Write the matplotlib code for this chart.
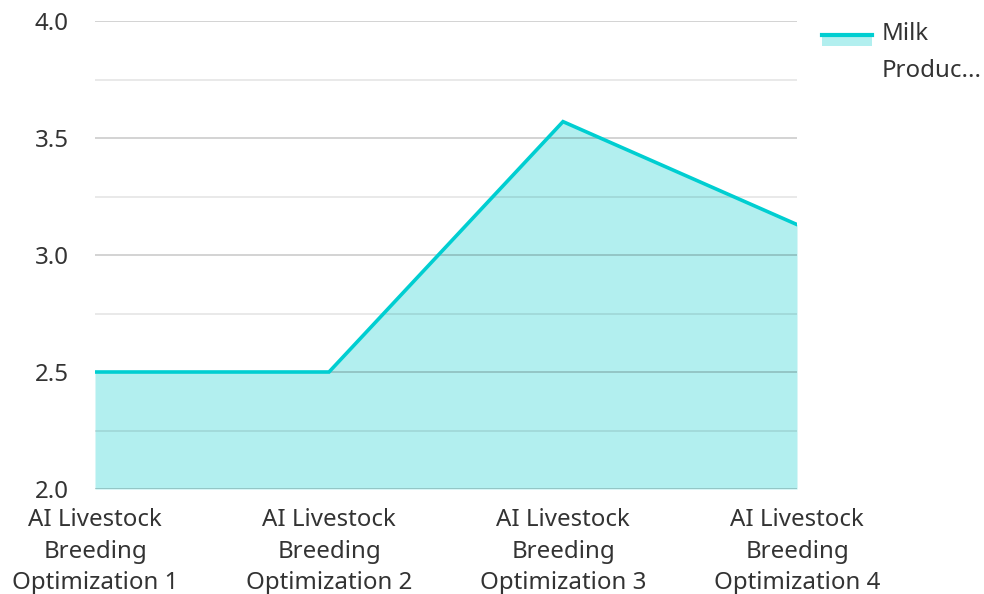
import matplotlib
matplotlib.use("Agg")
import matplotlib.pyplot as plt
from matplotlib.patches import Rectangle
from matplotlib.lines import Line2D

plt.rcParams['font.family'] = ['Noto Sans', 'DejaVu Sans']

categories = ["AI Livestock\nBreeding\nOptimization 1",
              "AI Livestock\nBreeding\nOptimization 2",
              "AI Livestock\nBreeding\nOptimization 3",
              "AI Livestock\nBreeding\nOptimization 4"]
milk_values = [2.5, 2.5, 3.57, 3.13]
y_ticks = [2.0, 2.5, 3.0, 3.5, 4.0]
y_minor = [2.25, 2.75, 3.25, 3.75]
series_name = "Milk\nProduc..."

line_color = "#00CED1"
fill_color = "#B2EFEF"
text_color = "#333333"
fs = 17.3

fig = plt.figure(figsize=(9.84, 5.94), dpi=100)
ax = fig.add_axes([95/984, 1-489/594, (797-95)/984, (489-21)/594])

x = list(range(len(categories)))
ax.fill_between(x, milk_values, 2.0, color=fill_color, lw=0, zorder=1)
ax.plot(x, milk_values, color=line_color, lw=2.6, zorder=3, solid_joinstyle='miter')

ax.set_xlim(0, len(categories) - 1)
ax.set_ylim(2.0, 4.0)
ax.set_yticks(y_ticks)
ax.set_yticklabels([f"{v:.1f}" for v in y_ticks])
ax.set_yticks(y_minor, minor=True)
ax.grid(axis='y', which='major', color='#000000', alpha=0.2, lw=1.2, zorder=2)
ax.grid(axis='y', which='minor', color='#000000', alpha=0.1, lw=1.2, zorder=2)
ax.set_xticks(x)
ax.set_xticklabels(categories, fontsize=fs, color=text_color, linespacing=1.4)
ax.tick_params(axis='both', which='both', length=0)
ax.tick_params(axis='y', labelsize=fs, colors=text_color, pad=19)
ax.tick_params(axis='x', pad=14)
for s in ax.spines.values():
    s.set_visible(False)

# legend swatch: line above a filled band
fig.patches.append(Rectangle((822/984, 1-46/594), 50/984, 10/594,
                             transform=fig.transFigure, color=fill_color, lw=0))
fig.lines.append(Line2D([822/984, 872/984], [1-35/594, 1-35/594],
                        transform=fig.transFigure, color=line_color, lw=3))
name_lines = series_name.split("\n")
fig.text(882/984, 1-34/594, name_lines[0], fontsize=fs, color=text_color, va='center')
fig.text(882/984, 1-71/594, name_lines[1], fontsize=fs, color=text_color, va='center')

fig.savefig("out.png", dpi=100)
